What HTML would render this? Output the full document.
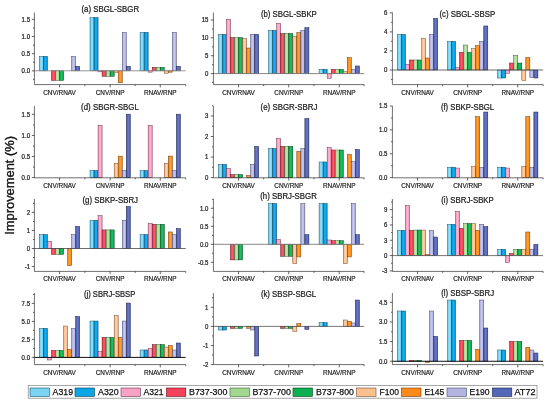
<!DOCTYPE html>
<html><head><meta charset="utf-8"><title>Improvement chart</title>
<style>html,body{margin:0;padding:0;background:#fff}svg{display:block}</style></head>
<body>
<svg width="550" height="404" viewBox="0 0 550 404" font-family="Liberation Sans, Arial, sans-serif">
<defs>
<linearGradient id="g0" x1="0" x2="1" y1="0" y2="0"><stop offset="0" stop-color="#5FC8EE"/><stop offset="0.45" stop-color="#93DEF8"/><stop offset="0.55" stop-color="#93DEF8"/><stop offset="1" stop-color="#5FC8EE"/></linearGradient>
<linearGradient id="g1" x1="0" x2="1" y1="0" y2="0"><stop offset="0" stop-color="#0092D4"/><stop offset="0.45" stop-color="#14AEF0"/><stop offset="0.55" stop-color="#14AEF0"/><stop offset="1" stop-color="#0092D4"/></linearGradient>
<linearGradient id="g2" x1="0" x2="1" y1="0" y2="0"><stop offset="0" stop-color="#F292B8"/><stop offset="0.45" stop-color="#FFB4D0"/><stop offset="0.55" stop-color="#FFB4D0"/><stop offset="1" stop-color="#F292B8"/></linearGradient>
<linearGradient id="g3" x1="0" x2="1" y1="0" y2="0"><stop offset="0" stop-color="#EA344C"/><stop offset="0.45" stop-color="#FF5668"/><stop offset="0.55" stop-color="#FF5668"/><stop offset="1" stop-color="#EA344C"/></linearGradient>
<linearGradient id="g4" x1="0" x2="1" y1="0" y2="0"><stop offset="0" stop-color="#94CE84"/><stop offset="0.45" stop-color="#BCE6AC"/><stop offset="0.55" stop-color="#BCE6AC"/><stop offset="1" stop-color="#94CE84"/></linearGradient>
<linearGradient id="g5" x1="0" x2="1" y1="0" y2="0"><stop offset="0" stop-color="#00A246"/><stop offset="0.45" stop-color="#1EBE60"/><stop offset="0.55" stop-color="#1EBE60"/><stop offset="1" stop-color="#00A246"/></linearGradient>
<linearGradient id="g6" x1="0" x2="1" y1="0" y2="0"><stop offset="0" stop-color="#F4B484"/><stop offset="0.45" stop-color="#FFCEA6"/><stop offset="0.55" stop-color="#FFCEA6"/><stop offset="1" stop-color="#F4B484"/></linearGradient>
<linearGradient id="g7" x1="0" x2="1" y1="0" y2="0"><stop offset="0" stop-color="#F2820F"/><stop offset="0.45" stop-color="#FF9E30"/><stop offset="0.55" stop-color="#FF9E30"/><stop offset="1" stop-color="#F2820F"/></linearGradient>
<linearGradient id="g8" x1="0" x2="1" y1="0" y2="0"><stop offset="0" stop-color="#A6A6DA"/><stop offset="0.45" stop-color="#C6C6EE"/><stop offset="0.55" stop-color="#C6C6EE"/><stop offset="1" stop-color="#A6A6DA"/></linearGradient>
<linearGradient id="g9" x1="0" x2="1" y1="0" y2="0"><stop offset="0" stop-color="#4A5AAA"/><stop offset="0.45" stop-color="#6676C6"/><stop offset="0.55" stop-color="#6676C6"/><stop offset="1" stop-color="#4A5AAA"/></linearGradient>
</defs>
<rect width="550" height="404" fill="#fff"/>
<g><rect x="39.4" y="56.39" width="4.03" height="14.41" fill="url(#g0)" stroke="#17586F" stroke-width="0.5"/><rect x="43.43" y="56.39" width="4.03" height="14.41" fill="url(#g1)" stroke="#063F5E" stroke-width="0.5"/><rect x="51.49" y="70.8" width="4.03" height="9.6" fill="url(#g3)" stroke="#5E1220" stroke-width="0.5"/><rect x="55.52" y="70.8" width="4.03" height="9.6" fill="url(#g4)" stroke="#3A6032" stroke-width="0.5"/><rect x="59.55" y="70.8" width="4.03" height="9.6" fill="url(#g5)" stroke="#04401E" stroke-width="0.5"/><rect x="71.64" y="56.39" width="4.03" height="14.41" fill="url(#g8)" stroke="#46466E" stroke-width="0.5"/><rect x="75.67" y="66.34" width="4.03" height="4.46" fill="url(#g9)" stroke="#1A2048" stroke-width="0.5"/><rect x="90" y="17.63" width="4.03" height="53.16" fill="url(#g0)" stroke="#17586F" stroke-width="0.5"/><rect x="94.03" y="17.63" width="4.03" height="53.16" fill="url(#g1)" stroke="#063F5E" stroke-width="0.5"/><rect x="98.06" y="70.8" width="4.03" height="1.03" fill="url(#g2)" stroke="#70304A" stroke-width="0.5"/><rect x="102.09" y="70.8" width="4.03" height="5.49" fill="url(#g3)" stroke="#5E1220" stroke-width="0.5"/><rect x="106.12" y="70.8" width="4.03" height="5.49" fill="url(#g4)" stroke="#3A6032" stroke-width="0.5"/><rect x="110.15" y="70.8" width="4.03" height="5.49" fill="url(#g5)" stroke="#04401E" stroke-width="0.5"/><rect x="114.18" y="70.8" width="4.03" height="1.71" fill="url(#g6)" stroke="#744C2E" stroke-width="0.5"/><rect x="118.21" y="70.8" width="4.03" height="12" fill="url(#g7)" stroke="#6E3A08" stroke-width="0.5"/><rect x="122.24" y="32.38" width="4.03" height="38.42" fill="url(#g8)" stroke="#46466E" stroke-width="0.5"/><rect x="126.27" y="66.34" width="4.03" height="4.46" fill="url(#g9)" stroke="#1A2048" stroke-width="0.5"/><rect x="140.1" y="32.38" width="4.03" height="38.42" fill="url(#g0)" stroke="#17586F" stroke-width="0.5"/><rect x="144.13" y="32.38" width="4.03" height="38.42" fill="url(#g1)" stroke="#063F5E" stroke-width="0.5"/><rect x="148.16" y="70.8" width="4.03" height="1.37" fill="url(#g2)" stroke="#70304A" stroke-width="0.5"/><rect x="152.19" y="67.37" width="4.03" height="3.43" fill="url(#g3)" stroke="#5E1220" stroke-width="0.5"/><rect x="156.22" y="67.37" width="4.03" height="3.43" fill="url(#g4)" stroke="#3A6032" stroke-width="0.5"/><rect x="160.25" y="67.37" width="4.03" height="3.43" fill="url(#g5)" stroke="#04401E" stroke-width="0.5"/><rect x="164.28" y="70.8" width="4.03" height="2.4" fill="url(#g6)" stroke="#744C2E" stroke-width="0.5"/><rect x="168.31" y="70.8" width="4.03" height="1.37" fill="url(#g7)" stroke="#6E3A08" stroke-width="0.5"/><rect x="172.34" y="32.38" width="4.03" height="38.42" fill="url(#g8)" stroke="#46466E" stroke-width="0.5"/><rect x="176.37" y="66.34" width="4.03" height="4.46" fill="url(#g9)" stroke="#1A2048" stroke-width="0.5"/><line x1="34.4" x2="185.7" y1="70.8" y2="70.8" stroke="#8c8c8c" stroke-width="0.9"/><path d="M34.4 12.5V84.6H185.7" fill="none" stroke="#222" stroke-width="0.65"/><path d="M31.8 70.8H34.4M31.8 53.65H34.4M31.8 36.5H34.4M31.8 19.35H34.4M33 79.38H34.4M33 62.22H34.4M33 45.08H34.4M33 27.92H34.4M59.55 84.6V87.4M110.15 84.6V87.4M160.25 84.6V87.4M84.85 84.6V86.1M135.2 84.6V86.1M185.7 84.6V86.1" fill="none" stroke="#222" stroke-width="0.7"/><text transform="translate(30 73.1) scale(0.96 1)" font-size="6.3" text-anchor="end" fill="#222" stroke="#222" stroke-width="0.22">0.0</text><text transform="translate(30 55.95) scale(0.96 1)" font-size="6.3" text-anchor="end" fill="#222" stroke="#222" stroke-width="0.22">0.5</text><text transform="translate(30 38.8) scale(0.96 1)" font-size="6.3" text-anchor="end" fill="#222" stroke="#222" stroke-width="0.22">1.0</text><text transform="translate(30 21.65) scale(0.96 1)" font-size="6.3" text-anchor="end" fill="#222" stroke="#222" stroke-width="0.22">1.5</text><text transform="translate(59.55 94.6) scale(0.975 1)" font-size="6.6" text-anchor="middle" fill="#1a1a1a" stroke="#1a1a1a" stroke-width="0.18">CNV/RNAV</text><text transform="translate(110.15 94.6) scale(0.975 1)" font-size="6.6" text-anchor="middle" fill="#1a1a1a" stroke="#1a1a1a" stroke-width="0.18">CNV/RNP</text><text transform="translate(160.25 94.6) scale(0.975 1)" font-size="6.6" text-anchor="middle" fill="#1a1a1a" stroke="#1a1a1a" stroke-width="0.18">RNAV/RNP</text><text x="81.5" y="12" font-size="8.2" textLength="57.6" lengthAdjust="spacingAndGlyphs" fill="#1a1a1a" stroke="#1a1a1a" stroke-width="0.22">(a) SBGL-SBGR</text></g>
<g><rect x="218.4" y="34.4" width="4.03" height="39.2" fill="url(#g0)" stroke="#17586F" stroke-width="0.5"/><rect x="222.43" y="34.4" width="4.03" height="39.2" fill="url(#g1)" stroke="#063F5E" stroke-width="0.5"/><rect x="226.46" y="19.29" width="4.03" height="54.31" fill="url(#g2)" stroke="#70304A" stroke-width="0.5"/><rect x="230.49" y="37.62" width="4.03" height="35.98" fill="url(#g3)" stroke="#5E1220" stroke-width="0.5"/><rect x="234.52" y="37.62" width="4.03" height="35.98" fill="url(#g4)" stroke="#3A6032" stroke-width="0.5"/><rect x="238.55" y="37.62" width="4.03" height="35.98" fill="url(#g5)" stroke="#04401E" stroke-width="0.5"/><rect x="242.58" y="38.58" width="4.03" height="35.02" fill="url(#g6)" stroke="#744C2E" stroke-width="0.5"/><rect x="246.61" y="48.02" width="4.03" height="25.58" fill="url(#g7)" stroke="#6E3A08" stroke-width="0.5"/><rect x="250.64" y="34.4" width="4.03" height="39.2" fill="url(#g8)" stroke="#46466E" stroke-width="0.5"/><rect x="254.67" y="34.4" width="4.03" height="39.2" fill="url(#g9)" stroke="#1A2048" stroke-width="0.5"/><rect x="268.6" y="30.37" width="4.03" height="43.23" fill="url(#g0)" stroke="#17586F" stroke-width="0.5"/><rect x="272.63" y="30.37" width="4.03" height="43.23" fill="url(#g1)" stroke="#063F5E" stroke-width="0.5"/><rect x="276.66" y="23.4" width="4.03" height="50.2" fill="url(#g2)" stroke="#70304A" stroke-width="0.5"/><rect x="280.69" y="33.58" width="4.03" height="40.02" fill="url(#g3)" stroke="#5E1220" stroke-width="0.5"/><rect x="284.72" y="33.58" width="4.03" height="40.02" fill="url(#g4)" stroke="#3A6032" stroke-width="0.5"/><rect x="288.75" y="33.58" width="4.03" height="40.02" fill="url(#g5)" stroke="#04401E" stroke-width="0.5"/><rect x="292.78" y="36.44" width="4.03" height="37.16" fill="url(#g6)" stroke="#744C2E" stroke-width="0.5"/><rect x="296.81" y="32.51" width="4.03" height="41.09" fill="url(#g7)" stroke="#6E3A08" stroke-width="0.5"/><rect x="300.84" y="30.37" width="4.03" height="43.23" fill="url(#g8)" stroke="#46466E" stroke-width="0.5"/><rect x="304.87" y="27.62" width="4.03" height="45.98" fill="url(#g9)" stroke="#1A2048" stroke-width="0.5"/><rect x="319.1" y="69.38" width="4.03" height="4.22" fill="url(#g0)" stroke="#17586F" stroke-width="0.5"/><rect x="323.13" y="69.38" width="4.03" height="4.22" fill="url(#g1)" stroke="#063F5E" stroke-width="0.5"/><rect x="327.16" y="73.6" width="4.03" height="4.79" fill="url(#g2)" stroke="#70304A" stroke-width="0.5"/><rect x="331.19" y="69.38" width="4.03" height="4.22" fill="url(#g3)" stroke="#5E1220" stroke-width="0.5"/><rect x="335.22" y="69.38" width="4.03" height="4.22" fill="url(#g4)" stroke="#3A6032" stroke-width="0.5"/><rect x="339.25" y="69.38" width="4.03" height="4.22" fill="url(#g5)" stroke="#04401E" stroke-width="0.5"/><rect x="343.28" y="71.46" width="4.03" height="2.14" fill="url(#g6)" stroke="#744C2E" stroke-width="0.5"/><rect x="347.31" y="57.59" width="4.03" height="16.01" fill="url(#g7)" stroke="#6E3A08" stroke-width="0.5"/><rect x="351.34" y="69.38" width="4.03" height="4.22" fill="url(#g8)" stroke="#46466E" stroke-width="0.5"/><rect x="355.37" y="65.99" width="4.03" height="7.61" fill="url(#g9)" stroke="#1A2048" stroke-width="0.5"/><line x1="213.4" x2="364.1" y1="73.6" y2="73.6" stroke="#7a7a7a" stroke-width="0.9"/><path d="M213.4 12.5V84.6H364.1" fill="none" stroke="#222" stroke-width="0.65"/><path d="M210.8 73.6H213.4M210.8 55.73H213.4M210.8 37.87H213.4M210.8 20H213.4M212 82.53H213.4M212 64.67H213.4M212 46.8H213.4M212 28.94H213.4M238.55 84.6V87.4M288.75 84.6V87.4M339.25 84.6V87.4M263.65 84.6V86.1M314 84.6V86.1M364.1 84.6V86.1" fill="none" stroke="#222" stroke-width="0.7"/><text transform="translate(208.4 75.9) scale(0.96 1)" font-size="6.3" text-anchor="end" fill="#222" stroke="#222" stroke-width="0.22">0</text><text transform="translate(208.4 58.03) scale(0.96 1)" font-size="6.3" text-anchor="end" fill="#222" stroke="#222" stroke-width="0.22">5</text><text transform="translate(208.4 40.17) scale(0.96 1)" font-size="6.3" text-anchor="end" fill="#222" stroke="#222" stroke-width="0.22">10</text><text transform="translate(208.4 22.3) scale(0.96 1)" font-size="6.3" text-anchor="end" fill="#222" stroke="#222" stroke-width="0.22">15</text><text transform="translate(238.55 94.6) scale(0.975 1)" font-size="6.6" text-anchor="middle" fill="#1a1a1a" stroke="#1a1a1a" stroke-width="0.18">CNV/RNAV</text><text transform="translate(288.75 94.6) scale(0.975 1)" font-size="6.6" text-anchor="middle" fill="#1a1a1a" stroke="#1a1a1a" stroke-width="0.18">CNV/RNP</text><text transform="translate(339.25 94.6) scale(0.975 1)" font-size="6.6" text-anchor="middle" fill="#1a1a1a" stroke="#1a1a1a" stroke-width="0.18">RNAV/RNP</text><text x="260.9" y="17" font-size="8.2" textLength="55.9" lengthAdjust="spacingAndGlyphs" fill="#1a1a1a" stroke="#1a1a1a" stroke-width="0.22">(b) SBGL-SBKP</text></g>
<g><rect x="397.4" y="34.45" width="4.03" height="35.55" fill="url(#g0)" stroke="#17586F" stroke-width="0.5"/><rect x="401.43" y="34.45" width="4.03" height="35.55" fill="url(#g1)" stroke="#063F5E" stroke-width="0.5"/><rect x="405.46" y="64.38" width="4.03" height="5.62" fill="url(#g2)" stroke="#70304A" stroke-width="0.5"/><rect x="409.49" y="59.99" width="4.03" height="10.01" fill="url(#g3)" stroke="#5E1220" stroke-width="0.5"/><rect x="413.52" y="59.99" width="4.03" height="10.01" fill="url(#g4)" stroke="#3A6032" stroke-width="0.5"/><rect x="417.55" y="59.99" width="4.03" height="10.01" fill="url(#g5)" stroke="#04401E" stroke-width="0.5"/><rect x="421.58" y="38.55" width="4.03" height="31.45" fill="url(#g6)" stroke="#744C2E" stroke-width="0.5"/><rect x="425.61" y="57.99" width="4.03" height="12.01" fill="url(#g7)" stroke="#6E3A08" stroke-width="0.5"/><rect x="429.64" y="34.45" width="4.03" height="35.55" fill="url(#g8)" stroke="#46466E" stroke-width="0.5"/><rect x="433.67" y="18.44" width="4.03" height="51.56" fill="url(#g9)" stroke="#1A2048" stroke-width="0.5"/><rect x="447.5" y="41.41" width="4.03" height="28.59" fill="url(#g0)" stroke="#17586F" stroke-width="0.5"/><rect x="451.53" y="41.41" width="4.03" height="28.59" fill="url(#g1)" stroke="#063F5E" stroke-width="0.5"/><rect x="455.56" y="67.62" width="4.03" height="2.38" fill="url(#g2)" stroke="#70304A" stroke-width="0.5"/><rect x="459.59" y="52.37" width="4.03" height="17.63" fill="url(#g3)" stroke="#5E1220" stroke-width="0.5"/><rect x="463.62" y="45.03" width="4.03" height="24.97" fill="url(#g4)" stroke="#3A6032" stroke-width="0.5"/><rect x="467.65" y="52.37" width="4.03" height="17.63" fill="url(#g5)" stroke="#04401E" stroke-width="0.5"/><rect x="471.68" y="48.56" width="4.03" height="21.44" fill="url(#g6)" stroke="#744C2E" stroke-width="0.5"/><rect x="475.71" y="45.6" width="4.03" height="24.4" fill="url(#g7)" stroke="#6E3A08" stroke-width="0.5"/><rect x="479.74" y="41.41" width="4.03" height="28.59" fill="url(#g8)" stroke="#46466E" stroke-width="0.5"/><rect x="483.77" y="25.97" width="4.03" height="44.03" fill="url(#g9)" stroke="#1A2048" stroke-width="0.5"/><rect x="497.6" y="70" width="4.03" height="8.01" fill="url(#g0)" stroke="#17586F" stroke-width="0.5"/><rect x="501.63" y="70" width="4.03" height="8.01" fill="url(#g1)" stroke="#063F5E" stroke-width="0.5"/><rect x="505.66" y="70" width="4.03" height="3.43" fill="url(#g2)" stroke="#70304A" stroke-width="0.5"/><rect x="509.69" y="63.04" width="4.03" height="6.96" fill="url(#g3)" stroke="#5E1220" stroke-width="0.5"/><rect x="513.72" y="55.42" width="4.03" height="14.58" fill="url(#g4)" stroke="#3A6032" stroke-width="0.5"/><rect x="517.75" y="63.04" width="4.03" height="6.96" fill="url(#g5)" stroke="#04401E" stroke-width="0.5"/><rect x="521.78" y="70" width="4.03" height="10.39" fill="url(#g6)" stroke="#744C2E" stroke-width="0.5"/><rect x="525.81" y="57.61" width="4.03" height="12.39" fill="url(#g7)" stroke="#6E3A08" stroke-width="0.5"/><rect x="529.84" y="70" width="4.03" height="7.62" fill="url(#g8)" stroke="#46466E" stroke-width="0.5"/><rect x="533.87" y="70" width="4.03" height="8.01" fill="url(#g9)" stroke="#1A2048" stroke-width="0.5"/><line x1="392.4" x2="543.1" y1="70" y2="70" stroke="#4a4a4a" stroke-width="0.8"/><path d="M392.4 12.5V84.6H543.1" fill="none" stroke="#222" stroke-width="0.65"/><path d="M389.8 70H392.4M389.8 50.94H392.4M389.8 31.88H392.4M389.8 12.82H392.4M391 79.53H392.4M391 60.47H392.4M391 41.41H392.4M391 22.35H392.4M417.55 84.6V87.4M467.65 84.6V87.4M517.75 84.6V87.4M442.6 84.6V86.1M492.7 84.6V86.1M543.1 84.6V86.1" fill="none" stroke="#222" stroke-width="0.7"/><text transform="translate(387.4 72.3) scale(0.96 1)" font-size="6.3" text-anchor="end" fill="#222" stroke="#222" stroke-width="0.22">0</text><text transform="translate(387.4 53.24) scale(0.96 1)" font-size="6.3" text-anchor="end" fill="#222" stroke="#222" stroke-width="0.22">2</text><text transform="translate(387.4 34.18) scale(0.96 1)" font-size="6.3" text-anchor="end" fill="#222" stroke="#222" stroke-width="0.22">4</text><text transform="translate(387.4 15.12) scale(0.96 1)" font-size="6.3" text-anchor="end" fill="#222" stroke="#222" stroke-width="0.22">6</text><text transform="translate(417.55 94.6) scale(0.975 1)" font-size="6.6" text-anchor="middle" fill="#1a1a1a" stroke="#1a1a1a" stroke-width="0.18">CNV/RNAV</text><text transform="translate(467.65 94.6) scale(0.975 1)" font-size="6.6" text-anchor="middle" fill="#1a1a1a" stroke="#1a1a1a" stroke-width="0.18">CNV/RNP</text><text transform="translate(517.75 94.6) scale(0.975 1)" font-size="6.6" text-anchor="middle" fill="#1a1a1a" stroke="#1a1a1a" stroke-width="0.18">RNAV/RNP</text><text x="439.5" y="16.7" font-size="8.2" textLength="55.7" lengthAdjust="spacingAndGlyphs" fill="#1a1a1a" stroke="#1a1a1a" stroke-width="0.22">(c) SBGL-SBSP</text></g>
<g><rect x="90" y="170.61" width="4.03" height="6.99" fill="url(#g0)" stroke="#17586F" stroke-width="0.5"/><rect x="94.03" y="170.61" width="4.03" height="6.99" fill="url(#g1)" stroke="#063F5E" stroke-width="0.5"/><rect x="98.06" y="125.36" width="4.03" height="52.24" fill="url(#g2)" stroke="#70304A" stroke-width="0.5"/><rect x="114.18" y="163.28" width="4.03" height="14.32" fill="url(#g6)" stroke="#744C2E" stroke-width="0.5"/><rect x="118.21" y="156.11" width="4.03" height="21.49" fill="url(#g7)" stroke="#6E3A08" stroke-width="0.5"/><rect x="122.24" y="170.44" width="4.03" height="7.16" fill="url(#g8)" stroke="#46466E" stroke-width="0.5"/><rect x="126.27" y="114.19" width="4.03" height="63.41" fill="url(#g9)" stroke="#1A2048" stroke-width="0.5"/><rect x="140.1" y="170.61" width="4.03" height="6.99" fill="url(#g0)" stroke="#17586F" stroke-width="0.5"/><rect x="144.13" y="170.61" width="4.03" height="6.99" fill="url(#g1)" stroke="#063F5E" stroke-width="0.5"/><rect x="148.16" y="125.36" width="4.03" height="52.24" fill="url(#g2)" stroke="#70304A" stroke-width="0.5"/><rect x="164.28" y="163.28" width="4.03" height="14.32" fill="url(#g6)" stroke="#744C2E" stroke-width="0.5"/><rect x="168.31" y="156.11" width="4.03" height="21.49" fill="url(#g7)" stroke="#6E3A08" stroke-width="0.5"/><rect x="172.34" y="170.44" width="4.03" height="7.16" fill="url(#g8)" stroke="#46466E" stroke-width="0.5"/><rect x="176.37" y="114.19" width="4.03" height="63.41" fill="url(#g9)" stroke="#1A2048" stroke-width="0.5"/><path d="M34.4 106V177.8H185.7" fill="none" stroke="#222" stroke-width="0.65"/><path d="M31.8 177.6H34.4M31.8 156.53H34.4M31.8 135.47H34.4M31.8 114.4H34.4M33 167.07H34.4M33 146H34.4M33 124.94H34.4M59.55 177.8V180.6M110.15 177.8V180.6M160.25 177.8V180.6M84.85 177.8V179.3M135.2 177.8V179.3M185.7 177.8V179.3" fill="none" stroke="#222" stroke-width="0.7"/><text transform="translate(30 179.9) scale(0.96 1)" font-size="6.3" text-anchor="end" fill="#222" stroke="#222" stroke-width="0.22">0.0</text><text transform="translate(30 158.84) scale(0.96 1)" font-size="6.3" text-anchor="end" fill="#222" stroke="#222" stroke-width="0.22">0.5</text><text transform="translate(30 137.77) scale(0.96 1)" font-size="6.3" text-anchor="end" fill="#222" stroke="#222" stroke-width="0.22">1.0</text><text transform="translate(30 116.7) scale(0.96 1)" font-size="6.3" text-anchor="end" fill="#222" stroke="#222" stroke-width="0.22">1.5</text><text transform="translate(59.55 187.7) scale(0.975 1)" font-size="6.6" text-anchor="middle" fill="#1a1a1a" stroke="#1a1a1a" stroke-width="0.18">CNV/RNAV</text><text transform="translate(110.15 187.7) scale(0.975 1)" font-size="6.6" text-anchor="middle" fill="#1a1a1a" stroke="#1a1a1a" stroke-width="0.18">CNV/RNP</text><text transform="translate(160.25 187.7) scale(0.975 1)" font-size="6.6" text-anchor="middle" fill="#1a1a1a" stroke="#1a1a1a" stroke-width="0.18">RNAV/RNP</text><text x="81.1" y="110.3" font-size="8.2" textLength="57.7" lengthAdjust="spacingAndGlyphs" fill="#1a1a1a" stroke="#1a1a1a" stroke-width="0.22">(d) SBGR-SBGL</text></g>
<g><rect x="218.4" y="164.4" width="4.03" height="13.2" fill="url(#g0)" stroke="#17586F" stroke-width="0.5"/><rect x="222.43" y="164.4" width="4.03" height="13.2" fill="url(#g1)" stroke="#063F5E" stroke-width="0.5"/><rect x="226.46" y="168.57" width="4.03" height="9.03" fill="url(#g2)" stroke="#70304A" stroke-width="0.5"/><rect x="230.49" y="174.6" width="4.03" height="3" fill="url(#g3)" stroke="#5E1220" stroke-width="0.5"/><rect x="234.52" y="174.6" width="4.03" height="3" fill="url(#g4)" stroke="#3A6032" stroke-width="0.5"/><rect x="238.55" y="174.6" width="4.03" height="3" fill="url(#g5)" stroke="#04401E" stroke-width="0.5"/><rect x="246.61" y="175.4" width="4.03" height="2.2" fill="url(#g7)" stroke="#6E3A08" stroke-width="0.5"/><rect x="250.64" y="164.4" width="4.03" height="13.2" fill="url(#g8)" stroke="#46466E" stroke-width="0.5"/><rect x="254.67" y="146.39" width="4.03" height="31.21" fill="url(#g9)" stroke="#1A2048" stroke-width="0.5"/><rect x="268.6" y="148.45" width="4.03" height="29.15" fill="url(#g0)" stroke="#17586F" stroke-width="0.5"/><rect x="272.63" y="148.45" width="4.03" height="29.15" fill="url(#g1)" stroke="#063F5E" stroke-width="0.5"/><rect x="276.66" y="138.39" width="4.03" height="39.21" fill="url(#g2)" stroke="#70304A" stroke-width="0.5"/><rect x="280.69" y="146.39" width="4.03" height="31.21" fill="url(#g3)" stroke="#5E1220" stroke-width="0.5"/><rect x="284.72" y="146.39" width="4.03" height="31.21" fill="url(#g4)" stroke="#3A6032" stroke-width="0.5"/><rect x="288.75" y="146.39" width="4.03" height="31.21" fill="url(#g5)" stroke="#04401E" stroke-width="0.5"/><rect x="296.81" y="151.4" width="4.03" height="26.2" fill="url(#g7)" stroke="#6E3A08" stroke-width="0.5"/><rect x="300.84" y="148.45" width="4.03" height="29.15" fill="url(#g8)" stroke="#46466E" stroke-width="0.5"/><rect x="304.87" y="118.47" width="4.03" height="59.13" fill="url(#g9)" stroke="#1A2048" stroke-width="0.5"/><rect x="319.1" y="162" width="4.03" height="15.6" fill="url(#g0)" stroke="#17586F" stroke-width="0.5"/><rect x="323.13" y="162" width="4.03" height="15.6" fill="url(#g1)" stroke="#063F5E" stroke-width="0.5"/><rect x="327.16" y="147.63" width="4.03" height="29.97" fill="url(#g2)" stroke="#70304A" stroke-width="0.5"/><rect x="331.19" y="150.01" width="4.03" height="27.59" fill="url(#g3)" stroke="#5E1220" stroke-width="0.5"/><rect x="335.22" y="150.01" width="4.03" height="27.59" fill="url(#g4)" stroke="#3A6032" stroke-width="0.5"/><rect x="339.25" y="150.01" width="4.03" height="27.59" fill="url(#g5)" stroke="#04401E" stroke-width="0.5"/><rect x="347.31" y="154.4" width="4.03" height="23.2" fill="url(#g7)" stroke="#6E3A08" stroke-width="0.5"/><rect x="351.34" y="161.59" width="4.03" height="16.01" fill="url(#g8)" stroke="#46466E" stroke-width="0.5"/><rect x="355.37" y="149.47" width="4.03" height="28.13" fill="url(#g9)" stroke="#1A2048" stroke-width="0.5"/><path d="M213.4 106V177.8H364.1" fill="none" stroke="#222" stroke-width="0.65"/><path d="M210.8 177.6H213.4M210.8 157.07H213.4M210.8 136.54H213.4M210.8 116.01H213.4M212 167.33H213.4M212 146.81H213.4M212 126.27H213.4M212 105.74H213.4M238.55 177.8V180.6M288.75 177.8V180.6M339.25 177.8V180.6M263.65 177.8V179.3M314 177.8V179.3M364.1 177.8V179.3" fill="none" stroke="#222" stroke-width="0.7"/><text transform="translate(208.4 179.9) scale(0.96 1)" font-size="6.3" text-anchor="end" fill="#222" stroke="#222" stroke-width="0.22">0</text><text transform="translate(208.4 159.37) scale(0.96 1)" font-size="6.3" text-anchor="end" fill="#222" stroke="#222" stroke-width="0.22">1</text><text transform="translate(208.4 138.84) scale(0.96 1)" font-size="6.3" text-anchor="end" fill="#222" stroke="#222" stroke-width="0.22">2</text><text transform="translate(208.4 118.31) scale(0.96 1)" font-size="6.3" text-anchor="end" fill="#222" stroke="#222" stroke-width="0.22">3</text><text transform="translate(238.55 187.7) scale(0.975 1)" font-size="6.6" text-anchor="middle" fill="#1a1a1a" stroke="#1a1a1a" stroke-width="0.18">CNV/RNAV</text><text transform="translate(288.75 187.7) scale(0.975 1)" font-size="6.6" text-anchor="middle" fill="#1a1a1a" stroke="#1a1a1a" stroke-width="0.18">CNV/RNP</text><text transform="translate(339.25 187.7) scale(0.975 1)" font-size="6.6" text-anchor="middle" fill="#1a1a1a" stroke="#1a1a1a" stroke-width="0.18">RNAV/RNP</text><text x="260.6" y="110.1" font-size="8.2" textLength="56.9" lengthAdjust="spacingAndGlyphs" fill="#1a1a1a" stroke="#1a1a1a" stroke-width="0.22">(e) SBGR-SBRJ</text></g>
<g><rect x="447.5" y="167.39" width="4.03" height="10.21" fill="url(#g0)" stroke="#17586F" stroke-width="0.5"/><rect x="451.53" y="167.39" width="4.03" height="10.21" fill="url(#g1)" stroke="#063F5E" stroke-width="0.5"/><rect x="455.56" y="168.05" width="4.03" height="9.55" fill="url(#g2)" stroke="#70304A" stroke-width="0.5"/><rect x="471.68" y="166.38" width="4.03" height="11.22" fill="url(#g6)" stroke="#744C2E" stroke-width="0.5"/><rect x="475.71" y="116.6" width="4.03" height="61" fill="url(#g7)" stroke="#6E3A08" stroke-width="0.5"/><rect x="479.74" y="167.39" width="4.03" height="10.21" fill="url(#g8)" stroke="#46466E" stroke-width="0.5"/><rect x="483.77" y="112.02" width="4.03" height="65.58" fill="url(#g9)" stroke="#1A2048" stroke-width="0.5"/><rect x="497.6" y="167.39" width="4.03" height="10.21" fill="url(#g0)" stroke="#17586F" stroke-width="0.5"/><rect x="501.63" y="167.39" width="4.03" height="10.21" fill="url(#g1)" stroke="#063F5E" stroke-width="0.5"/><rect x="505.66" y="168.05" width="4.03" height="9.55" fill="url(#g2)" stroke="#70304A" stroke-width="0.5"/><rect x="521.78" y="166.38" width="4.03" height="11.22" fill="url(#g6)" stroke="#744C2E" stroke-width="0.5"/><rect x="525.81" y="116.6" width="4.03" height="61" fill="url(#g7)" stroke="#6E3A08" stroke-width="0.5"/><rect x="529.84" y="167.39" width="4.03" height="10.21" fill="url(#g8)" stroke="#46466E" stroke-width="0.5"/><rect x="533.87" y="112.02" width="4.03" height="65.58" fill="url(#g9)" stroke="#1A2048" stroke-width="0.5"/><path d="M392.4 106V177.8H543.1" fill="none" stroke="#222" stroke-width="0.65"/><path d="M389.8 177.6H392.4M389.8 153.73H392.4M389.8 129.87H392.4M389.8 106H392.4M391 165.67H392.4M391 141.8H392.4M391 117.94H392.4M417.55 177.8V180.6M467.65 177.8V180.6M517.75 177.8V180.6M442.6 177.8V179.3M492.7 177.8V179.3M543.1 177.8V179.3" fill="none" stroke="#222" stroke-width="0.7"/><text transform="translate(387.4 179.9) scale(0.96 1)" font-size="6.3" text-anchor="end" fill="#222" stroke="#222" stroke-width="0.22">0.0</text><text transform="translate(387.4 156.03) scale(0.96 1)" font-size="6.3" text-anchor="end" fill="#222" stroke="#222" stroke-width="0.22">0.5</text><text transform="translate(387.4 132.17) scale(0.96 1)" font-size="6.3" text-anchor="end" fill="#222" stroke="#222" stroke-width="0.22">1.0</text><text transform="translate(387.4 108.3) scale(0.96 1)" font-size="6.3" text-anchor="end" fill="#222" stroke="#222" stroke-width="0.22">1.5</text><text transform="translate(417.55 187.7) scale(0.975 1)" font-size="6.6" text-anchor="middle" fill="#1a1a1a" stroke="#1a1a1a" stroke-width="0.18">CNV/RNAV</text><text transform="translate(467.65 187.7) scale(0.975 1)" font-size="6.6" text-anchor="middle" fill="#1a1a1a" stroke="#1a1a1a" stroke-width="0.18">CNV/RNP</text><text transform="translate(517.75 187.7) scale(0.975 1)" font-size="6.6" text-anchor="middle" fill="#1a1a1a" stroke="#1a1a1a" stroke-width="0.18">RNAV/RNP</text><text x="440.9" y="110.3" font-size="8.2" textLength="53.2" lengthAdjust="spacingAndGlyphs" fill="#1a1a1a" stroke="#1a1a1a" stroke-width="0.22">(f) SBKP-SBGL</text></g>
<g><rect x="39.4" y="234.55" width="4.03" height="13.95" fill="url(#g0)" stroke="#17586F" stroke-width="0.5"/><rect x="43.43" y="234.55" width="4.03" height="13.95" fill="url(#g1)" stroke="#063F5E" stroke-width="0.5"/><rect x="47.46" y="241.28" width="4.03" height="7.22" fill="url(#g2)" stroke="#70304A" stroke-width="0.5"/><rect x="51.49" y="248.5" width="4.03" height="5.96" fill="url(#g3)" stroke="#5E1220" stroke-width="0.5"/><rect x="55.52" y="248.5" width="4.03" height="5.96" fill="url(#g4)" stroke="#3A6032" stroke-width="0.5"/><rect x="59.55" y="248.5" width="4.03" height="5.96" fill="url(#g5)" stroke="#04401E" stroke-width="0.5"/><rect x="67.61" y="248.5" width="4.03" height="17.15" fill="url(#g7)" stroke="#6E3A08" stroke-width="0.5"/><rect x="71.64" y="234.55" width="4.03" height="13.95" fill="url(#g8)" stroke="#46466E" stroke-width="0.5"/><rect x="75.67" y="226.35" width="4.03" height="22.15" fill="url(#g9)" stroke="#1A2048" stroke-width="0.5"/><rect x="90" y="220.38" width="4.03" height="28.12" fill="url(#g0)" stroke="#17586F" stroke-width="0.5"/><rect x="94.03" y="220.38" width="4.03" height="28.12" fill="url(#g1)" stroke="#063F5E" stroke-width="0.5"/><rect x="98.06" y="215.65" width="4.03" height="32.85" fill="url(#g2)" stroke="#70304A" stroke-width="0.5"/><rect x="102.09" y="229.91" width="4.03" height="18.59" fill="url(#g3)" stroke="#5E1220" stroke-width="0.5"/><rect x="106.12" y="229.91" width="4.03" height="18.59" fill="url(#g4)" stroke="#3A6032" stroke-width="0.5"/><rect x="110.15" y="229.91" width="4.03" height="18.59" fill="url(#g5)" stroke="#04401E" stroke-width="0.5"/><rect x="122.24" y="220.38" width="4.03" height="28.12" fill="url(#g8)" stroke="#46466E" stroke-width="0.5"/><rect x="126.27" y="206.44" width="4.03" height="42.06" fill="url(#g9)" stroke="#1A2048" stroke-width="0.5"/><rect x="140.1" y="234.6" width="4.03" height="13.9" fill="url(#g0)" stroke="#17586F" stroke-width="0.5"/><rect x="144.13" y="234.6" width="4.03" height="13.9" fill="url(#g1)" stroke="#063F5E" stroke-width="0.5"/><rect x="148.16" y="223.41" width="4.03" height="25.09" fill="url(#g2)" stroke="#70304A" stroke-width="0.5"/><rect x="152.19" y="224.31" width="4.03" height="24.19" fill="url(#g3)" stroke="#5E1220" stroke-width="0.5"/><rect x="156.22" y="224.31" width="4.03" height="24.19" fill="url(#g4)" stroke="#3A6032" stroke-width="0.5"/><rect x="160.25" y="224.31" width="4.03" height="24.19" fill="url(#g5)" stroke="#04401E" stroke-width="0.5"/><rect x="168.31" y="231.95" width="4.03" height="16.55" fill="url(#g7)" stroke="#6E3A08" stroke-width="0.5"/><rect x="172.34" y="234.42" width="4.03" height="14.08" fill="url(#g8)" stroke="#46466E" stroke-width="0.5"/><rect x="176.37" y="228.55" width="4.03" height="19.95" fill="url(#g9)" stroke="#1A2048" stroke-width="0.5"/><line x1="34.4" x2="185.7" y1="248.5" y2="248.5" stroke="#4a4a4a" stroke-width="0.8"/><path d="M34.4 199V271.4H185.7" fill="none" stroke="#222" stroke-width="0.65"/><path d="M31.8 266.55H34.4M31.8 248.5H34.4M31.8 230.45H34.4M31.8 212.4H34.4M33 257.52H34.4M33 239.47H34.4M33 221.43H34.4M33 203.38H34.4M59.55 271.4V274.2M110.15 271.4V274.2M160.25 271.4V274.2M84.85 271.4V272.9M135.2 271.4V272.9M185.7 271.4V272.9" fill="none" stroke="#222" stroke-width="0.7"/><text transform="translate(30 268.85) scale(0.96 1)" font-size="6.3" text-anchor="end" fill="#222" stroke="#222" stroke-width="0.22">-1</text><text transform="translate(30 250.8) scale(0.96 1)" font-size="6.3" text-anchor="end" fill="#222" stroke="#222" stroke-width="0.22">0</text><text transform="translate(30 232.75) scale(0.96 1)" font-size="6.3" text-anchor="end" fill="#222" stroke="#222" stroke-width="0.22">1</text><text transform="translate(30 214.7) scale(0.96 1)" font-size="6.3" text-anchor="end" fill="#222" stroke="#222" stroke-width="0.22">2</text><text transform="translate(59.55 281.4) scale(0.975 1)" font-size="6.6" text-anchor="middle" fill="#1a1a1a" stroke="#1a1a1a" stroke-width="0.18">CNV/RNAV</text><text transform="translate(110.15 281.4) scale(0.975 1)" font-size="6.6" text-anchor="middle" fill="#1a1a1a" stroke="#1a1a1a" stroke-width="0.18">CNV/RNP</text><text transform="translate(160.25 281.4) scale(0.975 1)" font-size="6.6" text-anchor="middle" fill="#1a1a1a" stroke="#1a1a1a" stroke-width="0.18">RNAV/RNP</text><text x="82.5" y="203.3" font-size="8.2" textLength="55.5" lengthAdjust="spacingAndGlyphs" fill="#1a1a1a" stroke="#1a1a1a" stroke-width="0.22">(g) SBKP-SBRJ</text></g>
<g><rect x="230.49" y="244.3" width="4.03" height="15.59" fill="url(#g3)" stroke="#5E1220" stroke-width="0.5"/><rect x="234.52" y="244.3" width="4.03" height="15.59" fill="url(#g4)" stroke="#3A6032" stroke-width="0.5"/><rect x="238.55" y="244.3" width="4.03" height="15.59" fill="url(#g5)" stroke="#04401E" stroke-width="0.5"/><rect x="268.6" y="203.51" width="4.03" height="40.79" fill="url(#g0)" stroke="#17586F" stroke-width="0.5"/><rect x="272.63" y="203.51" width="4.03" height="40.79" fill="url(#g1)" stroke="#063F5E" stroke-width="0.5"/><rect x="276.66" y="239.51" width="4.03" height="4.79" fill="url(#g2)" stroke="#70304A" stroke-width="0.5"/><rect x="280.69" y="244.3" width="4.03" height="11.99" fill="url(#g3)" stroke="#5E1220" stroke-width="0.5"/><rect x="284.72" y="244.3" width="4.03" height="11.99" fill="url(#g4)" stroke="#3A6032" stroke-width="0.5"/><rect x="288.75" y="244.3" width="4.03" height="11.99" fill="url(#g5)" stroke="#04401E" stroke-width="0.5"/><rect x="292.78" y="244.3" width="4.03" height="19.44" fill="url(#g6)" stroke="#744C2E" stroke-width="0.5"/><rect x="296.81" y="244.3" width="4.03" height="12.6" fill="url(#g7)" stroke="#6E3A08" stroke-width="0.5"/><rect x="300.84" y="203.51" width="4.03" height="40.79" fill="url(#g8)" stroke="#46466E" stroke-width="0.5"/><rect x="304.87" y="234.69" width="4.03" height="9.61" fill="url(#g9)" stroke="#1A2048" stroke-width="0.5"/><rect x="319.1" y="203.51" width="4.03" height="40.79" fill="url(#g0)" stroke="#17586F" stroke-width="0.5"/><rect x="323.13" y="203.51" width="4.03" height="40.79" fill="url(#g1)" stroke="#063F5E" stroke-width="0.5"/><rect x="327.16" y="239.98" width="4.03" height="4.32" fill="url(#g2)" stroke="#70304A" stroke-width="0.5"/><rect x="331.19" y="240.7" width="4.03" height="3.6" fill="url(#g3)" stroke="#5E1220" stroke-width="0.5"/><rect x="335.22" y="240.7" width="4.03" height="3.6" fill="url(#g4)" stroke="#3A6032" stroke-width="0.5"/><rect x="339.25" y="240.7" width="4.03" height="3.6" fill="url(#g5)" stroke="#04401E" stroke-width="0.5"/><rect x="343.28" y="244.3" width="4.03" height="19.44" fill="url(#g6)" stroke="#744C2E" stroke-width="0.5"/><rect x="347.31" y="244.3" width="4.03" height="12.6" fill="url(#g7)" stroke="#6E3A08" stroke-width="0.5"/><rect x="351.34" y="203.51" width="4.03" height="40.79" fill="url(#g8)" stroke="#46466E" stroke-width="0.5"/><rect x="355.37" y="234.69" width="4.03" height="9.61" fill="url(#g9)" stroke="#1A2048" stroke-width="0.5"/><line x1="213.4" x2="364.1" y1="244.3" y2="244.3" stroke="#7a7a7a" stroke-width="0.9"/><path d="M213.4 199V271.4H364.1" fill="none" stroke="#222" stroke-width="0.65"/><path d="M210.8 262.3H213.4M210.8 244.3H213.4M210.8 226.3H213.4M210.8 208.3H213.4M212 253.3H213.4M212 235.3H213.4M212 217.3H213.4M212 199.3H213.4M238.55 271.4V274.2M288.75 271.4V274.2M339.25 271.4V274.2M263.65 271.4V272.9M314 271.4V272.9M364.1 271.4V272.9" fill="none" stroke="#222" stroke-width="0.7"/><text transform="translate(208.4 264.6) scale(0.96 1)" font-size="6.3" text-anchor="end" fill="#222" stroke="#222" stroke-width="0.22">-0.5</text><text transform="translate(208.4 246.6) scale(0.96 1)" font-size="6.3" text-anchor="end" fill="#222" stroke="#222" stroke-width="0.22">0.0</text><text transform="translate(208.4 228.6) scale(0.96 1)" font-size="6.3" text-anchor="end" fill="#222" stroke="#222" stroke-width="0.22">0.5</text><text transform="translate(208.4 210.6) scale(0.96 1)" font-size="6.3" text-anchor="end" fill="#222" stroke="#222" stroke-width="0.22">1.0</text><text transform="translate(238.55 281.4) scale(0.975 1)" font-size="6.6" text-anchor="middle" fill="#1a1a1a" stroke="#1a1a1a" stroke-width="0.18">CNV/RNAV</text><text transform="translate(288.75 281.4) scale(0.975 1)" font-size="6.6" text-anchor="middle" fill="#1a1a1a" stroke="#1a1a1a" stroke-width="0.18">CNV/RNP</text><text transform="translate(339.25 281.4) scale(0.975 1)" font-size="6.6" text-anchor="middle" fill="#1a1a1a" stroke="#1a1a1a" stroke-width="0.18">RNAV/RNP</text><text x="260.2" y="199.2" font-size="8.2" textLength="56.6" lengthAdjust="spacingAndGlyphs" fill="#1a1a1a" stroke="#1a1a1a" stroke-width="0.22">(h) SBRJ-SBGR</text></g>
<g><rect x="397.4" y="230.41" width="4.03" height="25.19" fill="url(#g0)" stroke="#17586F" stroke-width="0.5"/><rect x="401.43" y="230.41" width="4.03" height="25.19" fill="url(#g1)" stroke="#063F5E" stroke-width="0.5"/><rect x="405.46" y="205.42" width="4.03" height="50.18" fill="url(#g2)" stroke="#70304A" stroke-width="0.5"/><rect x="409.49" y="230.41" width="4.03" height="25.19" fill="url(#g3)" stroke="#5E1220" stroke-width="0.5"/><rect x="413.52" y="230.05" width="4.03" height="25.55" fill="url(#g4)" stroke="#3A6032" stroke-width="0.5"/><rect x="417.55" y="230.05" width="4.03" height="25.55" fill="url(#g5)" stroke="#04401E" stroke-width="0.5"/><rect x="421.58" y="230.05" width="4.03" height="25.55" fill="url(#g6)" stroke="#744C2E" stroke-width="0.5"/><rect x="425.61" y="254.42" width="4.03" height="1.18" fill="url(#g7)" stroke="#6E3A08" stroke-width="0.5"/><rect x="429.64" y="230.41" width="4.03" height="25.19" fill="url(#g8)" stroke="#46466E" stroke-width="0.5"/><rect x="433.67" y="237" width="4.03" height="18.6" fill="url(#g9)" stroke="#1A2048" stroke-width="0.5"/><rect x="447.5" y="224.43" width="4.03" height="31.17" fill="url(#g0)" stroke="#17586F" stroke-width="0.5"/><rect x="451.53" y="224.43" width="4.03" height="31.17" fill="url(#g1)" stroke="#063F5E" stroke-width="0.5"/><rect x="455.56" y="211.4" width="4.03" height="44.2" fill="url(#g2)" stroke="#70304A" stroke-width="0.5"/><rect x="459.59" y="228.41" width="4.03" height="27.19" fill="url(#g3)" stroke="#5E1220" stroke-width="0.5"/><rect x="463.62" y="223.61" width="4.03" height="31.99" fill="url(#g4)" stroke="#3A6032" stroke-width="0.5"/><rect x="467.65" y="223.61" width="4.03" height="31.99" fill="url(#g5)" stroke="#04401E" stroke-width="0.5"/><rect x="471.68" y="223.61" width="4.03" height="31.99" fill="url(#g6)" stroke="#744C2E" stroke-width="0.5"/><rect x="475.71" y="230.41" width="4.03" height="25.19" fill="url(#g7)" stroke="#6E3A08" stroke-width="0.5"/><rect x="479.74" y="224.43" width="4.03" height="31.17" fill="url(#g8)" stroke="#46466E" stroke-width="0.5"/><rect x="483.77" y="226.42" width="4.03" height="29.18" fill="url(#g9)" stroke="#1A2048" stroke-width="0.5"/><rect x="497.6" y="249.42" width="4.03" height="6.18" fill="url(#g0)" stroke="#17586F" stroke-width="0.5"/><rect x="501.63" y="249.42" width="4.03" height="6.18" fill="url(#g1)" stroke="#063F5E" stroke-width="0.5"/><rect x="505.66" y="255.6" width="4.03" height="6.8" fill="url(#g2)" stroke="#70304A" stroke-width="0.5"/><rect x="509.69" y="253.61" width="4.03" height="1.99" fill="url(#g3)" stroke="#5E1220" stroke-width="0.5"/><rect x="513.72" y="249.42" width="4.03" height="6.18" fill="url(#g4)" stroke="#3A6032" stroke-width="0.5"/><rect x="517.75" y="249.42" width="4.03" height="6.18" fill="url(#g5)" stroke="#04401E" stroke-width="0.5"/><rect x="521.78" y="249.42" width="4.03" height="6.18" fill="url(#g6)" stroke="#744C2E" stroke-width="0.5"/><rect x="525.81" y="231.99" width="4.03" height="23.61" fill="url(#g7)" stroke="#6E3A08" stroke-width="0.5"/><rect x="529.84" y="249.42" width="4.03" height="6.18" fill="url(#g8)" stroke="#46466E" stroke-width="0.5"/><rect x="533.87" y="244.41" width="4.03" height="11.19" fill="url(#g9)" stroke="#1A2048" stroke-width="0.5"/><line x1="392.4" x2="543.1" y1="255.6" y2="255.6" stroke="#555" stroke-width="0.8"/><path d="M392.4 199V271.4H543.1" fill="none" stroke="#222" stroke-width="0.65"/><path d="M389.8 270.93H392.4M389.8 255.6H392.4M389.8 240.27H392.4M389.8 224.94H392.4M389.8 209.61H392.4M391 263.26H392.4M391 247.94H392.4M391 232.6H392.4M391 217.27H392.4M391 201.94H392.4M417.55 271.4V274.2M467.65 271.4V274.2M517.75 271.4V274.2M442.6 271.4V272.9M492.7 271.4V272.9M543.1 271.4V272.9" fill="none" stroke="#222" stroke-width="0.7"/><text transform="translate(387.4 273.23) scale(0.96 1)" font-size="6.3" text-anchor="end" fill="#222" stroke="#222" stroke-width="0.22">-3</text><text transform="translate(387.4 257.9) scale(0.96 1)" font-size="6.3" text-anchor="end" fill="#222" stroke="#222" stroke-width="0.22">0</text><text transform="translate(387.4 242.57) scale(0.96 1)" font-size="6.3" text-anchor="end" fill="#222" stroke="#222" stroke-width="0.22">3</text><text transform="translate(387.4 227.24) scale(0.96 1)" font-size="6.3" text-anchor="end" fill="#222" stroke="#222" stroke-width="0.22">6</text><text transform="translate(387.4 211.91) scale(0.96 1)" font-size="6.3" text-anchor="end" fill="#222" stroke="#222" stroke-width="0.22">9</text><text transform="translate(417.55 281.4) scale(0.975 1)" font-size="6.6" text-anchor="middle" fill="#1a1a1a" stroke="#1a1a1a" stroke-width="0.18">CNV/RNAV</text><text transform="translate(467.65 281.4) scale(0.975 1)" font-size="6.6" text-anchor="middle" fill="#1a1a1a" stroke="#1a1a1a" stroke-width="0.18">CNV/RNP</text><text transform="translate(517.75 281.4) scale(0.975 1)" font-size="6.6" text-anchor="middle" fill="#1a1a1a" stroke="#1a1a1a" stroke-width="0.18">RNAV/RNP</text><text x="441.2" y="203.3" font-size="8.2" textLength="52.6" lengthAdjust="spacingAndGlyphs" fill="#1a1a1a" stroke="#1a1a1a" stroke-width="0.22">(i) SBRJ-SBKP</text></g>
<g><rect x="39.4" y="328.38" width="4.03" height="29.02" fill="url(#g0)" stroke="#17586F" stroke-width="0.5"/><rect x="43.43" y="328.38" width="4.03" height="29.02" fill="url(#g1)" stroke="#063F5E" stroke-width="0.5"/><rect x="47.46" y="357.4" width="4.03" height="2.59" fill="url(#g2)" stroke="#70304A" stroke-width="0.5"/><rect x="51.49" y="350.42" width="4.03" height="6.98" fill="url(#g3)" stroke="#5E1220" stroke-width="0.5"/><rect x="55.52" y="350.42" width="4.03" height="6.98" fill="url(#g4)" stroke="#3A6032" stroke-width="0.5"/><rect x="59.55" y="350.42" width="4.03" height="6.98" fill="url(#g5)" stroke="#04401E" stroke-width="0.5"/><rect x="63.58" y="326.01" width="4.03" height="31.39" fill="url(#g6)" stroke="#744C2E" stroke-width="0.5"/><rect x="67.61" y="349.41" width="4.03" height="7.99" fill="url(#g7)" stroke="#6E3A08" stroke-width="0.5"/><rect x="71.64" y="328.38" width="4.03" height="29.02" fill="url(#g8)" stroke="#46466E" stroke-width="0.5"/><rect x="75.67" y="316.43" width="4.03" height="40.97" fill="url(#g9)" stroke="#1A2048" stroke-width="0.5"/><rect x="90" y="321.04" width="4.03" height="36.36" fill="url(#g0)" stroke="#17586F" stroke-width="0.5"/><rect x="94.03" y="321.04" width="4.03" height="36.36" fill="url(#g1)" stroke="#063F5E" stroke-width="0.5"/><rect x="98.06" y="351.64" width="4.03" height="5.76" fill="url(#g2)" stroke="#70304A" stroke-width="0.5"/><rect x="102.09" y="337.38" width="4.03" height="20.02" fill="url(#g3)" stroke="#5E1220" stroke-width="0.5"/><rect x="106.12" y="337.38" width="4.03" height="20.02" fill="url(#g4)" stroke="#3A6032" stroke-width="0.5"/><rect x="110.15" y="337.38" width="4.03" height="20.02" fill="url(#g5)" stroke="#04401E" stroke-width="0.5"/><rect x="114.18" y="315.64" width="4.03" height="41.76" fill="url(#g6)" stroke="#744C2E" stroke-width="0.5"/><rect x="118.21" y="337.38" width="4.03" height="20.02" fill="url(#g7)" stroke="#6E3A08" stroke-width="0.5"/><rect x="122.24" y="321.04" width="4.03" height="36.36" fill="url(#g8)" stroke="#46466E" stroke-width="0.5"/><rect x="126.27" y="303.04" width="4.03" height="54.36" fill="url(#g9)" stroke="#1A2048" stroke-width="0.5"/><rect x="140.1" y="349.98" width="4.03" height="7.42" fill="url(#g0)" stroke="#17586F" stroke-width="0.5"/><rect x="144.13" y="349.98" width="4.03" height="7.42" fill="url(#g1)" stroke="#063F5E" stroke-width="0.5"/><rect x="148.16" y="348.62" width="4.03" height="8.78" fill="url(#g2)" stroke="#70304A" stroke-width="0.5"/><rect x="152.19" y="344.58" width="4.03" height="12.82" fill="url(#g3)" stroke="#5E1220" stroke-width="0.5"/><rect x="156.22" y="344.58" width="4.03" height="12.82" fill="url(#g4)" stroke="#3A6032" stroke-width="0.5"/><rect x="160.25" y="344.58" width="4.03" height="12.82" fill="url(#g5)" stroke="#04401E" stroke-width="0.5"/><rect x="164.28" y="347.03" width="4.03" height="10.37" fill="url(#g6)" stroke="#744C2E" stroke-width="0.5"/><rect x="168.31" y="345.59" width="4.03" height="11.81" fill="url(#g7)" stroke="#6E3A08" stroke-width="0.5"/><rect x="172.34" y="349.98" width="4.03" height="7.42" fill="url(#g8)" stroke="#46466E" stroke-width="0.5"/><rect x="176.37" y="343" width="4.03" height="14.4" fill="url(#g9)" stroke="#1A2048" stroke-width="0.5"/><line x1="34.4" x2="185.7" y1="357.4" y2="357.4" stroke="#111" stroke-width="1.0"/><path d="M34.4 293V364.6H185.7" fill="none" stroke="#222" stroke-width="0.65"/><path d="M31.8 357.4H34.4M31.8 339.4H34.4M31.8 321.4H34.4M31.8 303.4H34.4M33 348.4H34.4M33 330.4H34.4M33 312.4H34.4M33 294.4H34.4M59.55 364.6V367.4M110.15 364.6V367.4M160.25 364.6V367.4M84.85 364.6V366.1M135.2 364.6V366.1M185.7 364.6V366.1" fill="none" stroke="#222" stroke-width="0.7"/><text transform="translate(30 359.7) scale(0.96 1)" font-size="6.3" text-anchor="end" fill="#222" stroke="#222" stroke-width="0.22">0.0</text><text transform="translate(30 341.7) scale(0.96 1)" font-size="6.3" text-anchor="end" fill="#222" stroke="#222" stroke-width="0.22">2.5</text><text transform="translate(30 323.7) scale(0.96 1)" font-size="6.3" text-anchor="end" fill="#222" stroke="#222" stroke-width="0.22">5.0</text><text transform="translate(30 305.7) scale(0.96 1)" font-size="6.3" text-anchor="end" fill="#222" stroke="#222" stroke-width="0.22">7.5</text><text transform="translate(59.55 374.9) scale(0.975 1)" font-size="6.6" text-anchor="middle" fill="#1a1a1a" stroke="#1a1a1a" stroke-width="0.18">CNV/RNAV</text><text transform="translate(110.15 374.9) scale(0.975 1)" font-size="6.6" text-anchor="middle" fill="#1a1a1a" stroke="#1a1a1a" stroke-width="0.18">CNV/RNP</text><text transform="translate(160.25 374.9) scale(0.975 1)" font-size="6.6" text-anchor="middle" fill="#1a1a1a" stroke="#1a1a1a" stroke-width="0.18">RNAV/RNP</text><text x="83.9" y="296.5" font-size="8.2" textLength="51.4" lengthAdjust="spacingAndGlyphs" fill="#1a1a1a" stroke="#1a1a1a" stroke-width="0.22">(j) SBRJ-SBSP</text></g>
<g><rect x="218.4" y="326.4" width="4.03" height="3.63" fill="url(#g0)" stroke="#17586F" stroke-width="0.5"/><rect x="222.43" y="326.4" width="4.03" height="3.63" fill="url(#g1)" stroke="#063F5E" stroke-width="0.5"/><rect x="230.49" y="326.4" width="4.03" height="2.01" fill="url(#g3)" stroke="#5E1220" stroke-width="0.5"/><rect x="234.52" y="326.4" width="4.03" height="2.01" fill="url(#g4)" stroke="#3A6032" stroke-width="0.5"/><rect x="238.55" y="326.4" width="4.03" height="2.01" fill="url(#g5)" stroke="#04401E" stroke-width="0.5"/><rect x="246.61" y="326.4" width="4.03" height="1.91" fill="url(#g7)" stroke="#6E3A08" stroke-width="0.5"/><rect x="250.64" y="326.4" width="4.03" height="3.63" fill="url(#g8)" stroke="#46466E" stroke-width="0.5"/><rect x="254.67" y="326.4" width="4.03" height="29.61" fill="url(#g9)" stroke="#1A2048" stroke-width="0.5"/><rect x="280.69" y="326.4" width="4.03" height="2.01" fill="url(#g3)" stroke="#5E1220" stroke-width="0.5"/><rect x="284.72" y="326.4" width="4.03" height="2.01" fill="url(#g4)" stroke="#3A6032" stroke-width="0.5"/><rect x="288.75" y="326.4" width="4.03" height="2.01" fill="url(#g5)" stroke="#04401E" stroke-width="0.5"/><rect x="292.78" y="326.4" width="4.03" height="4.97" fill="url(#g6)" stroke="#744C2E" stroke-width="0.5"/><rect x="296.81" y="323.59" width="4.03" height="2.81" fill="url(#g7)" stroke="#6E3A08" stroke-width="0.5"/><rect x="304.87" y="326.4" width="4.03" height="3" fill="url(#g9)" stroke="#1A2048" stroke-width="0.5"/><rect x="319.1" y="322.58" width="4.03" height="3.82" fill="url(#g0)" stroke="#17586F" stroke-width="0.5"/><rect x="323.13" y="322.58" width="4.03" height="3.82" fill="url(#g1)" stroke="#063F5E" stroke-width="0.5"/><rect x="343.28" y="320" width="4.03" height="6.4" fill="url(#g6)" stroke="#744C2E" stroke-width="0.5"/><rect x="347.31" y="321.43" width="4.03" height="4.97" fill="url(#g7)" stroke="#6E3A08" stroke-width="0.5"/><rect x="351.34" y="322.96" width="4.03" height="3.44" fill="url(#g8)" stroke="#46466E" stroke-width="0.5"/><rect x="355.37" y="300.04" width="4.03" height="26.36" fill="url(#g9)" stroke="#1A2048" stroke-width="0.5"/><line x1="213.4" x2="364.1" y1="326.4" y2="326.4" stroke="#555" stroke-width="0.8"/><path d="M213.4 293V364.6H364.1" fill="none" stroke="#222" stroke-width="0.65"/><path d="M210.8 364.6H213.4M210.8 345.5H213.4M210.8 326.4H213.4M210.8 307.3H213.4M212 355.05H213.4M212 335.95H213.4M212 316.85H213.4M212 297.75H213.4M238.55 364.6V367.4M288.75 364.6V367.4M339.25 364.6V367.4M263.65 364.6V366.1M314 364.6V366.1M364.1 364.6V366.1" fill="none" stroke="#222" stroke-width="0.7"/><text transform="translate(208.4 366.9) scale(0.96 1)" font-size="6.3" text-anchor="end" fill="#222" stroke="#222" stroke-width="0.22">-2</text><text transform="translate(208.4 347.8) scale(0.96 1)" font-size="6.3" text-anchor="end" fill="#222" stroke="#222" stroke-width="0.22">-1</text><text transform="translate(208.4 328.7) scale(0.96 1)" font-size="6.3" text-anchor="end" fill="#222" stroke="#222" stroke-width="0.22">0</text><text transform="translate(208.4 309.6) scale(0.96 1)" font-size="6.3" text-anchor="end" fill="#222" stroke="#222" stroke-width="0.22">1</text><text transform="translate(238.55 374.9) scale(0.975 1)" font-size="6.6" text-anchor="middle" fill="#1a1a1a" stroke="#1a1a1a" stroke-width="0.18">CNV/RNAV</text><text transform="translate(288.75 374.9) scale(0.975 1)" font-size="6.6" text-anchor="middle" fill="#1a1a1a" stroke="#1a1a1a" stroke-width="0.18">CNV/RNP</text><text transform="translate(339.25 374.9) scale(0.975 1)" font-size="6.6" text-anchor="middle" fill="#1a1a1a" stroke="#1a1a1a" stroke-width="0.18">RNAV/RNP</text><text x="260.9" y="296.5" font-size="8.2" textLength="55.3" lengthAdjust="spacingAndGlyphs" fill="#1a1a1a" stroke="#1a1a1a" stroke-width="0.22">(k) SBSP-SBGL</text></g>
<g><rect x="397.4" y="311.01" width="4.03" height="50.19" fill="url(#g0)" stroke="#17586F" stroke-width="0.5"/><rect x="401.43" y="311.01" width="4.03" height="50.19" fill="url(#g1)" stroke="#063F5E" stroke-width="0.5"/><rect x="409.49" y="360.42" width="4.03" height="0.78" fill="url(#g3)" stroke="#5E1220" stroke-width="0.5"/><rect x="413.52" y="360.42" width="4.03" height="0.78" fill="url(#g4)" stroke="#3A6032" stroke-width="0.5"/><rect x="417.55" y="360.42" width="4.03" height="0.78" fill="url(#g5)" stroke="#04401E" stroke-width="0.5"/><rect x="425.61" y="361.2" width="4.03" height="1.31" fill="url(#g7)" stroke="#6E3A08" stroke-width="0.5"/><rect x="429.64" y="311.01" width="4.03" height="50.19" fill="url(#g8)" stroke="#46466E" stroke-width="0.5"/><rect x="433.67" y="336.37" width="4.03" height="24.83" fill="url(#g9)" stroke="#1A2048" stroke-width="0.5"/><rect x="447.5" y="300.03" width="4.03" height="61.17" fill="url(#g0)" stroke="#17586F" stroke-width="0.5"/><rect x="451.53" y="300.03" width="4.03" height="61.17" fill="url(#g1)" stroke="#063F5E" stroke-width="0.5"/><rect x="459.59" y="340.42" width="4.03" height="20.78" fill="url(#g3)" stroke="#5E1220" stroke-width="0.5"/><rect x="463.62" y="340.42" width="4.03" height="20.78" fill="url(#g4)" stroke="#3A6032" stroke-width="0.5"/><rect x="467.65" y="340.42" width="4.03" height="20.78" fill="url(#g5)" stroke="#04401E" stroke-width="0.5"/><rect x="475.71" y="349.44" width="4.03" height="11.76" fill="url(#g7)" stroke="#6E3A08" stroke-width="0.5"/><rect x="479.74" y="300.03" width="4.03" height="61.17" fill="url(#g8)" stroke="#46466E" stroke-width="0.5"/><rect x="483.77" y="328" width="4.03" height="33.2" fill="url(#g9)" stroke="#1A2048" stroke-width="0.5"/><rect x="497.6" y="350" width="4.03" height="11.2" fill="url(#g0)" stroke="#17586F" stroke-width="0.5"/><rect x="501.63" y="350" width="4.03" height="11.2" fill="url(#g1)" stroke="#063F5E" stroke-width="0.5"/><rect x="509.69" y="341.4" width="4.03" height="19.8" fill="url(#g3)" stroke="#5E1220" stroke-width="0.5"/><rect x="513.72" y="341.4" width="4.03" height="19.8" fill="url(#g4)" stroke="#3A6032" stroke-width="0.5"/><rect x="517.75" y="341.4" width="4.03" height="19.8" fill="url(#g5)" stroke="#04401E" stroke-width="0.5"/><rect x="525.81" y="347.4" width="4.03" height="13.8" fill="url(#g7)" stroke="#6E3A08" stroke-width="0.5"/><rect x="529.84" y="350" width="4.03" height="11.2" fill="url(#g8)" stroke="#46466E" stroke-width="0.5"/><rect x="533.87" y="353.01" width="4.03" height="8.19" fill="url(#g9)" stroke="#1A2048" stroke-width="0.5"/><line x1="392.4" x2="543.1" y1="361.2" y2="361.2" stroke="#111" stroke-width="1.1"/><path d="M392.4 293V364.6H543.1" fill="none" stroke="#222" stroke-width="0.65"/><path d="M389.8 361.2H392.4M389.8 341.59H392.4M389.8 321.99H392.4M389.8 302.38H392.4M391 351.4H392.4M391 331.79H392.4M391 312.19H392.4M417.55 364.6V367.4M467.65 364.6V367.4M517.75 364.6V367.4M442.6 364.6V366.1M492.7 364.6V366.1M543.1 364.6V366.1" fill="none" stroke="#222" stroke-width="0.7"/><text transform="translate(387.4 363.5) scale(0.96 1)" font-size="6.3" text-anchor="end" fill="#222" stroke="#222" stroke-width="0.22">0.0</text><text transform="translate(387.4 343.89) scale(0.96 1)" font-size="6.3" text-anchor="end" fill="#222" stroke="#222" stroke-width="0.22">1.5</text><text transform="translate(387.4 324.29) scale(0.96 1)" font-size="6.3" text-anchor="end" fill="#222" stroke="#222" stroke-width="0.22">3.0</text><text transform="translate(387.4 304.69) scale(0.96 1)" font-size="6.3" text-anchor="end" fill="#222" stroke="#222" stroke-width="0.22">4.5</text><text transform="translate(417.55 374.9) scale(0.975 1)" font-size="6.6" text-anchor="middle" fill="#1a1a1a" stroke="#1a1a1a" stroke-width="0.18">CNV/RNAV</text><text transform="translate(467.65 374.9) scale(0.975 1)" font-size="6.6" text-anchor="middle" fill="#1a1a1a" stroke="#1a1a1a" stroke-width="0.18">CNV/RNP</text><text transform="translate(517.75 374.9) scale(0.975 1)" font-size="6.6" text-anchor="middle" fill="#1a1a1a" stroke="#1a1a1a" stroke-width="0.18">RNAV/RNP</text><text x="441.2" y="296.4" font-size="8.2" textLength="52.9" lengthAdjust="spacingAndGlyphs" fill="#1a1a1a" stroke="#1a1a1a" stroke-width="0.22">(l) SBSP-SBRJ</text></g>
<text transform="translate(13.8 185.4) rotate(-90)" font-size="12.9" text-anchor="middle" fill="#111" stroke="#111" stroke-width="0.35">Improvement (%)</text>
<rect x="28.2" y="385.6" width="508.8" height="12.6" fill="#fff" stroke="#8a8a8a" stroke-width="0.75"/>
<rect x="30" y="388" width="19.4" height="8.4" fill="#7DD3F3" stroke="#17586F" stroke-width="0.6"/>
<text x="52.6" y="395.4" font-size="9.2" textLength="20.4" lengthAdjust="spacingAndGlyphs" fill="#111" stroke="#111" stroke-width="0.25">A319</text>
<rect x="75" y="388" width="19.4" height="8.4" fill="#0CA6E4" stroke="#063F5E" stroke-width="0.6"/>
<text x="98" y="395.4" font-size="9.2" textLength="20.6" lengthAdjust="spacingAndGlyphs" fill="#111" stroke="#111" stroke-width="0.25">A320</text>
<rect x="121" y="388" width="19.4" height="8.4" fill="#F8A3C4" stroke="#70304A" stroke-width="0.6"/>
<text x="143.6" y="395.4" font-size="9.2" textLength="20" lengthAdjust="spacingAndGlyphs" fill="#111" stroke="#111" stroke-width="0.25">A321</text>
<rect x="166.4" y="388" width="19.4" height="8.4" fill="#F5405A" stroke="#5E1220" stroke-width="0.6"/>
<text x="189" y="395.4" font-size="9.2" textLength="38.4" lengthAdjust="spacingAndGlyphs" fill="#111" stroke="#111" stroke-width="0.25">B737-300</text>
<rect x="230" y="388" width="19.4" height="8.4" fill="#A3D890" stroke="#3A6032" stroke-width="0.6"/>
<text x="252.4" y="395.4" font-size="9.2" textLength="38.6" lengthAdjust="spacingAndGlyphs" fill="#111" stroke="#111" stroke-width="0.25">B737-700</text>
<rect x="293" y="388" width="19.4" height="8.4" fill="#0DB050" stroke="#04401E" stroke-width="0.6"/>
<text x="316" y="395.4" font-size="9.2" textLength="38" lengthAdjust="spacingAndGlyphs" fill="#111" stroke="#111" stroke-width="0.25">B737-800</text>
<rect x="356.6" y="388" width="19.4" height="8.4" fill="#FBC090" stroke="#744C2E" stroke-width="0.6"/>
<text x="379.6" y="395.4" font-size="9.2" textLength="19.4" lengthAdjust="spacingAndGlyphs" fill="#111" stroke="#111" stroke-width="0.25">F100</text>
<rect x="401.6" y="388" width="19.4" height="8.4" fill="#FF8A1C" stroke="#6E3A08" stroke-width="0.6"/>
<text x="424.4" y="395.4" font-size="9.2" textLength="20" lengthAdjust="spacingAndGlyphs" fill="#111" stroke="#111" stroke-width="0.25">E145</text>
<rect x="447" y="388" width="19.4" height="8.4" fill="#B4B4E0" stroke="#46466E" stroke-width="0.6"/>
<text x="469.6" y="395.4" font-size="9.2" textLength="20" lengthAdjust="spacingAndGlyphs" fill="#111" stroke="#111" stroke-width="0.25">E190</text>
<rect x="492.4" y="388" width="19.4" height="8.4" fill="#5466B8" stroke="#1A2048" stroke-width="0.6"/>
<text x="514.4" y="395.4" font-size="9.2" textLength="21.2" lengthAdjust="spacingAndGlyphs" fill="#111" stroke="#111" stroke-width="0.25">AT72</text>
</svg>
</body></html>
